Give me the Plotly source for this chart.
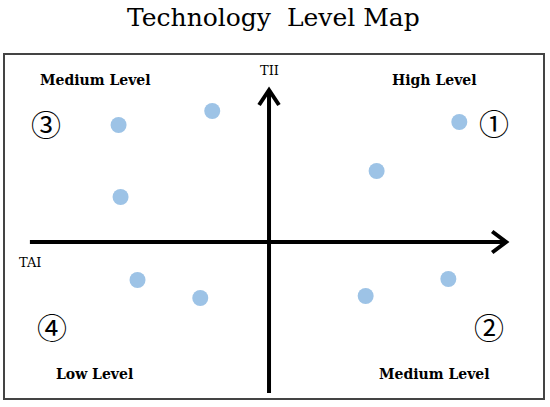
import plotly.graph_objects as go

# positions of the technologies (TAI on x, TII on y), arbitrary units
tai = [-3.02, -1.14, -2.98, 3.82, 2.16, -2.64, -1.38, 1.94, 3.60]
tii = [2.34, 2.62, 0.90, 2.40, 1.42, -0.76, -1.12, -1.08, -0.74]

quadrant_labels = ["High Level", "Medium Level", "Medium Level", "Low Level"]
quadrant_nums = ["①", "②", "③", "④"]

X_RANGE = [-5.3, 5.5]
Y_RANGE = [-3.12, 3.74]
SERIF = "DejaVu Serif, serif"

fig = go.Figure()
fig.add_trace(go.Scatter(
    x=tai, y=tii, mode="markers",
    marker=dict(size=16, color="#9dc3e6", line=dict(width=0)),
    hoverinfo="x+y", showlegend=False,
))

# axis lines with open chevron heads
ax_w = 4
shapes = [
    dict(type="line", x0=-4.8, y0=0, x1=4.76, y1=0, line=dict(color="black", width=ax_w)),
    dict(type="line", x0=0, y0=-3.02, x1=0, y1=3.02, line=dict(color="black", width=ax_w)),
    dict(type="path", path="M 4.48,0.21 L 4.76,0 L 4.48,-0.21",
         line=dict(color="black", width=ax_w)),
    dict(type="path", path="M -0.2,2.74 L 0,3.04 L 0.2,2.74",
         line=dict(color="black", width=ax_w)),
]
fig.update_layout(shapes=shapes)

lbl_font = dict(family=SERIF, size=14, color="black")
num_font = dict(family="Noto Sans CJK KR, DejaVu Sans", size=30, color="black")
annots = [
    dict(x=3.32, y=3.24, text="<b>%s</b>" % quadrant_labels[0], font=lbl_font),
    dict(x=3.32, y=-2.64, text="<b>%s</b>" % quadrant_labels[1], font=lbl_font),
    dict(x=-3.48, y=3.24, text="<b>%s</b>" % quadrant_labels[2], font=lbl_font),
    dict(x=-3.5, y=-2.64, text="<b>%s</b>" % quadrant_labels[3], font=lbl_font),
    dict(x=4.52, y=2.40, text=quadrant_nums[0], font=num_font),
    dict(x=4.42, y=-1.68, text=quadrant_nums[1], font=num_font),
    dict(x=-4.48, y=2.38, text=quadrant_nums[2], font=num_font),
    dict(x=-4.36, y=-1.68, text=quadrant_nums[3], font=num_font),
    dict(x=0, y=3.44, text="TII", font=dict(family=SERIF, size=13, color="black")),
    dict(x=-4.8, y=-0.4, text="TAI", font=dict(family=SERIF, size=13, color="black")),
]
for a in annots:
    a["showarrow"] = False
fig.update_layout(annotations=annots)

fig.update_xaxes(range=X_RANGE, visible=True, showgrid=False, zeroline=False,
                 showticklabels=False, ticks="", showline=True, mirror=True,
                 linecolor="#444", linewidth=2)
fig.update_yaxes(range=Y_RANGE, visible=True, showgrid=False, zeroline=False,
                 showticklabels=False, ticks="", showline=True, mirror=True,
                 linecolor="#444", linewidth=2)

fig.update_layout(
    width=550, height=407,
    margin=dict(l=5, r=5, t=55, b=9),
    paper_bgcolor="white", plot_bgcolor="white",
    title=dict(text="Technology  Level Map", x=0.497, xanchor="center",
               y=0.957, yanchor="middle", yref="container",
               font=dict(family=SERIF, size=25, color="black")),
)

fig.write_html("out.html", config={"displayModeBar": False},
               post_script="document.body.style.margin='0';")
